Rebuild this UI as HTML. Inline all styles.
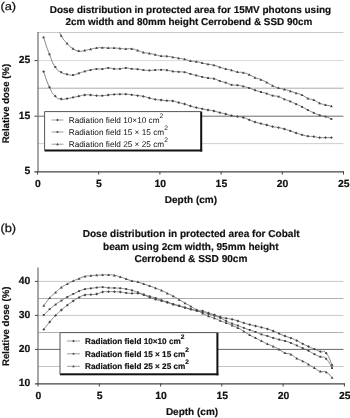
<!DOCTYPE html>
<html lang="en"><head><meta charset="utf-8"><title>Dose distribution</title>
<style>html,body{margin:0;padding:0;background:#fff}svg{display:block}</style></head>
<body>
<svg width="350" height="418" viewBox="0 0 350 418" font-family="'Liberation Sans', Arial, sans-serif" fill="#111" text-rendering="geometricPrecision">
<defs><clipPath id="ca"><rect x="37" y="32.4" width="310" height="140"/></clipPath></defs>
<rect width="350" height="418" fill="#fff"/>
<text transform="translate(0.4,9.8) scale(1.1,0.95)" font-size="11.7" stroke="#111" stroke-width="0.25">(a)</text>
<text x="190.45" y="13.1" font-size="9.975" font-weight="bold" stroke="#111" stroke-width="0.18" text-anchor="middle">Dose distribution in protected area for 15MV photons using</text>
<text x="188.9" y="25.4" font-size="9.93" font-weight="bold" stroke="#111" stroke-width="0.18" text-anchor="middle">2cm width and 80mm height Cerrobend &amp; SSD 90cm</text>
<line x1="37.5" y1="32.5" x2="343.4" y2="32.5" stroke="#cacaca" stroke-width="1"/>
<line x1="37.5" y1="60.6" x2="343.4" y2="60.6" stroke="#d8d8d8" stroke-width="1"/>
<line x1="37.5" y1="88.2" x2="343.4" y2="88.2" stroke="#ababab" stroke-width="1"/>
<line x1="37.5" y1="116.2" x2="343.4" y2="116.2" stroke="#6a6a6a" stroke-width="1"/>
<line x1="37.5" y1="143.6" x2="343.4" y2="143.6" stroke="#cfcfcf" stroke-width="1"/>
<line x1="38" y1="32" x2="38" y2="172" stroke="#777" stroke-width="1.3"/>
<line x1="34.4" y1="171.9" x2="344" y2="171.9" stroke="#444" stroke-width="1.2"/>
<line x1="34.4" y1="60.6" x2="37.5" y2="60.6" stroke="#444" stroke-width="1"/>
<line x1="34.4" y1="116.2" x2="37.5" y2="116.2" stroke="#444" stroke-width="1"/>
<line x1="37.5" y1="171.6" x2="37.5" y2="174.6" stroke="#444" stroke-width="1"/>
<text x="37.8" y="187" font-size="10.4" font-weight="bold" stroke="#111" stroke-width="0.18" text-anchor="middle">0</text>
<line x1="98.7" y1="171.6" x2="98.7" y2="174.6" stroke="#444" stroke-width="1"/>
<text x="99.0" y="187" font-size="10.4" font-weight="bold" stroke="#111" stroke-width="0.18" text-anchor="middle">5</text>
<line x1="159.9" y1="171.6" x2="159.9" y2="174.6" stroke="#444" stroke-width="1"/>
<text x="160.2" y="187" font-size="10.4" font-weight="bold" stroke="#111" stroke-width="0.18" text-anchor="middle">10</text>
<line x1="221.1" y1="171.6" x2="221.1" y2="174.6" stroke="#444" stroke-width="1"/>
<text x="221.4" y="187" font-size="10.4" font-weight="bold" stroke="#111" stroke-width="0.18" text-anchor="middle">15</text>
<line x1="282.3" y1="171.6" x2="282.3" y2="174.6" stroke="#444" stroke-width="1"/>
<text x="282.6" y="187" font-size="10.4" font-weight="bold" stroke="#111" stroke-width="0.18" text-anchor="middle">20</text>
<line x1="343.5" y1="171.6" x2="343.5" y2="174.6" stroke="#444" stroke-width="1"/>
<text x="343.8" y="187" font-size="10.4" font-weight="bold" stroke="#111" stroke-width="0.18" text-anchor="middle">25</text>
<text x="30.3" y="63.4" font-size="10.4" font-weight="bold" stroke="#111" stroke-width="0.18" text-anchor="end">25</text>
<text x="30.3" y="119.0" font-size="10.4" font-weight="bold" stroke="#111" stroke-width="0.18" text-anchor="end">15</text>
<text x="30.3" y="174.4" font-size="10.4" font-weight="bold" stroke="#111" stroke-width="0.18" text-anchor="end">5</text>
<text transform="translate(9.2,103.6) rotate(-90)" font-size="9.6" font-weight="bold" stroke="#111" stroke-width="0.18" text-anchor="middle">Relative dose (%)</text>
<text x="190.9" y="202.7" font-size="10" font-weight="bold" stroke="#111" stroke-width="0.18" text-anchor="middle">Depth (cm)</text>
<g clip-path="url(#ca)">
<path d="M43.6 -12.0C45.6 -6.0 45.6 -5.7 49.5 6.0C53.4 17.7 51.4 13.1 55.3 23.0C59.3 32.9 57.3 28.8 61.2 35.6C65.1 42.4 63.2 39.1 67.1 43.4C71.0 47.7 69.0 46.1 73.0 48.6C76.9 51.1 74.9 50.4 78.8 51.0C82.8 51.6 80.8 51.0 84.7 50.4C88.6 49.8 86.7 50.0 90.6 49.2C94.5 48.4 92.5 48.5 96.5 48.0C100.4 47.5 98.4 47.6 102.3 47.6C106.2 47.6 104.3 47.9 108.2 48.0C112.1 48.1 110.2 47.9 114.1 48.0C118.0 48.1 116.0 48.1 119.9 48.4C123.9 48.7 121.9 48.7 125.8 48.8C129.7 48.9 127.8 48.3 131.7 48.8C135.6 49.3 133.7 49.2 137.6 50.4C141.5 51.6 139.5 51.4 143.4 52.4C147.4 53.4 145.4 52.7 149.3 53.4C153.2 54.1 151.3 53.7 155.2 54.6C159.1 55.5 157.1 55.5 161.1 56.0C165.0 56.5 163.0 55.8 166.9 56.2C170.8 56.6 168.9 56.5 172.8 57.2C176.7 57.9 174.8 57.5 178.7 58.2C182.6 58.9 180.6 58.3 184.6 59.2C188.5 60.1 186.5 60.0 190.4 60.8C194.3 61.6 192.4 60.9 196.3 61.6C200.2 62.3 198.3 62.1 202.2 63.0C206.1 63.9 204.1 63.5 208.0 64.2C212.0 64.9 210.0 64.2 213.9 65.2C217.8 66.2 215.9 66.0 219.8 67.2C223.7 68.4 221.7 67.8 225.7 68.8C229.6 69.8 227.6 69.1 231.5 70.2C235.5 71.3 233.5 71.2 237.4 72.0C241.3 72.8 239.4 71.7 243.3 72.6C247.2 73.5 245.2 72.9 249.2 74.6C253.1 76.3 251.1 75.9 255.0 77.6C258.9 79.3 257.0 78.0 260.9 79.6C264.8 81.2 262.9 80.4 266.8 82.4C270.7 84.4 268.7 83.7 272.6 85.6C276.6 87.5 274.6 86.8 278.5 88.0C282.4 89.2 280.5 88.3 284.4 89.3C288.3 90.3 286.4 89.8 290.3 91.1C294.2 92.4 292.2 91.8 296.1 93.1C300.1 94.4 298.1 93.2 302.0 95.0C305.9 96.8 304.0 96.7 307.9 98.4C311.8 100.1 309.8 98.4 313.8 100.0C317.7 101.6 315.7 101.6 319.6 103.2C323.5 104.8 321.6 103.8 325.5 104.8C329.4 105.8 329.4 105.7 331.4 106.2" fill="none" stroke="#666" stroke-width="0.8" stroke-linejoin="round"/>
<path d="M43.6 -13.4L45.0 -10.9L42.2 -10.9Z" fill="#444"/>
<path d="M49.5 4.6L50.9 7.1L48.1 7.1Z" fill="#444"/>
<path d="M55.3 21.6L56.7 24.1L53.9 24.1Z" fill="#444"/>
<path d="M61.2 34.2L62.6 36.7L59.8 36.7Z" fill="#444"/>
<path d="M67.1 42.0L68.5 44.5L65.7 44.5Z" fill="#444"/>
<path d="M73.0 47.2L74.4 49.7L71.6 49.7Z" fill="#444"/>
<path d="M78.8 49.6L80.2 52.1L77.4 52.1Z" fill="#444"/>
<path d="M84.7 49.0L86.1 51.5L83.3 51.5Z" fill="#444"/>
<path d="M90.6 47.8L92.0 50.3L89.2 50.3Z" fill="#444"/>
<path d="M96.5 46.6L97.9 49.1L95.1 49.1Z" fill="#444"/>
<path d="M102.3 46.2L103.7 48.7L100.9 48.7Z" fill="#444"/>
<path d="M108.2 46.6L109.6 49.1L106.8 49.1Z" fill="#444"/>
<path d="M114.1 46.6L115.5 49.1L112.7 49.1Z" fill="#444"/>
<path d="M119.9 47.0L121.3 49.5L118.5 49.5Z" fill="#444"/>
<path d="M125.8 47.4L127.2 49.9L124.4 49.9Z" fill="#444"/>
<path d="M131.7 47.4L133.1 49.9L130.3 49.9Z" fill="#444"/>
<path d="M137.6 49.0L139.0 51.5L136.2 51.5Z" fill="#444"/>
<path d="M143.4 51.0L144.8 53.5L142.0 53.5Z" fill="#444"/>
<path d="M149.3 52.0L150.7 54.5L147.9 54.5Z" fill="#444"/>
<path d="M155.2 53.2L156.6 55.7L153.8 55.7Z" fill="#444"/>
<path d="M161.1 54.6L162.5 57.1L159.7 57.1Z" fill="#444"/>
<path d="M166.9 54.8L168.3 57.3L165.5 57.3Z" fill="#444"/>
<path d="M172.8 55.8L174.2 58.3L171.4 58.3Z" fill="#444"/>
<path d="M178.7 56.8L180.1 59.3L177.3 59.3Z" fill="#444"/>
<path d="M184.6 57.8L186.0 60.3L183.2 60.3Z" fill="#444"/>
<path d="M190.4 59.4L191.8 61.9L189.0 61.9Z" fill="#444"/>
<path d="M196.3 60.2L197.7 62.7L194.9 62.7Z" fill="#444"/>
<path d="M202.2 61.6L203.6 64.1L200.8 64.1Z" fill="#444"/>
<path d="M208.0 62.8L209.4 65.3L206.6 65.3Z" fill="#444"/>
<path d="M213.9 63.8L215.3 66.3L212.5 66.3Z" fill="#444"/>
<path d="M219.8 65.8L221.2 68.3L218.4 68.3Z" fill="#444"/>
<path d="M225.7 67.4L227.1 69.9L224.3 69.9Z" fill="#444"/>
<path d="M231.5 68.8L232.9 71.3L230.1 71.3Z" fill="#444"/>
<path d="M237.4 70.6L238.8 73.1L236.0 73.1Z" fill="#444"/>
<path d="M243.3 71.2L244.7 73.7L241.9 73.7Z" fill="#444"/>
<path d="M249.2 73.2L250.6 75.7L247.8 75.7Z" fill="#444"/>
<path d="M255.0 76.2L256.4 78.7L253.6 78.7Z" fill="#444"/>
<path d="M260.9 78.2L262.3 80.7L259.5 80.7Z" fill="#444"/>
<path d="M266.8 81.0L268.2 83.5L265.4 83.5Z" fill="#444"/>
<path d="M272.6 84.2L274.0 86.7L271.2 86.7Z" fill="#444"/>
<path d="M278.5 86.6L279.9 89.1L277.1 89.1Z" fill="#444"/>
<path d="M284.4 87.9L285.8 90.4L283.0 90.4Z" fill="#444"/>
<path d="M290.3 89.7L291.7 92.2L288.9 92.2Z" fill="#444"/>
<path d="M296.1 91.7L297.5 94.2L294.7 94.2Z" fill="#444"/>
<path d="M302.0 93.6L303.4 96.1L300.6 96.1Z" fill="#444"/>
<path d="M307.9 97.0L309.3 99.5L306.5 99.5Z" fill="#444"/>
<path d="M313.8 98.6L315.2 101.1L312.4 101.1Z" fill="#444"/>
<path d="M319.6 101.8L321.0 104.3L318.2 104.3Z" fill="#444"/>
<path d="M325.5 103.4L326.9 105.9L324.1 105.9Z" fill="#444"/>
<path d="M331.4 104.8L332.8 107.3L330.0 107.3Z" fill="#444"/>
</g>
<g clip-path="url(#ca)">
<path d="M43.6 37.4C45.6 43.1 45.6 44.5 49.5 54.4C53.4 64.3 51.4 61.1 55.3 67.0C59.3 72.9 57.3 69.8 61.2 72.2C65.1 74.6 63.2 73.4 67.1 74.3C71.0 75.2 69.0 75.3 73.0 75.0C76.9 74.7 74.9 74.5 78.8 73.3C82.8 72.1 80.8 72.5 84.7 71.4C88.6 70.3 86.7 70.8 90.6 70.0C94.5 69.2 92.5 69.3 96.5 69.0C100.4 68.7 98.4 69.3 102.3 69.0C106.2 68.7 104.3 68.1 108.2 68.0C112.1 67.9 110.2 68.5 114.1 68.8C118.0 69.1 116.0 69.1 119.9 68.8C123.9 68.5 121.9 68.0 125.8 68.0C129.7 68.0 127.8 68.4 131.7 68.8C135.6 69.2 133.7 68.8 137.6 69.2C141.5 69.6 139.5 69.6 143.4 70.0C147.4 70.4 145.4 70.4 149.3 70.4C153.2 70.4 151.3 70.2 155.2 70.0C159.1 69.8 157.1 69.7 161.1 69.8C165.0 69.9 163.0 69.7 166.9 70.2C170.8 70.7 168.9 70.9 172.8 71.4C176.7 71.9 174.8 71.5 178.7 71.8C182.6 72.1 180.6 71.5 184.6 72.2C188.5 72.9 186.5 72.8 190.4 73.9C194.3 75.0 192.4 74.4 196.3 75.4C200.2 76.4 198.3 76.0 202.2 76.9C206.1 77.8 204.1 77.4 208.0 78.0C212.0 78.6 210.0 77.7 213.9 78.7C217.8 79.7 215.9 79.7 219.8 81.0C223.7 82.3 221.7 81.3 225.7 82.6C229.6 83.9 227.6 83.9 231.5 84.8C235.5 85.7 233.5 84.7 237.4 85.2C241.3 85.7 239.4 85.5 243.3 86.4C247.2 87.3 245.2 86.7 249.2 88.0C253.1 89.3 251.1 88.9 255.0 90.2C258.9 91.5 257.0 90.9 260.9 92.0C264.8 93.1 262.9 92.4 266.8 93.6C270.7 94.8 268.7 94.6 272.6 95.6C276.6 96.6 274.6 95.4 278.5 96.6C282.4 97.8 280.5 97.7 284.4 99.3C288.3 100.9 286.4 99.8 290.3 101.4C294.2 103.0 292.2 102.3 296.1 104.1C300.1 105.9 298.1 104.8 302.0 106.8C305.9 108.8 304.0 108.0 307.9 110.0C311.8 112.0 309.8 111.1 313.8 112.8C317.7 114.5 315.7 113.9 319.6 115.2C323.5 116.5 321.6 115.3 325.5 116.6C329.4 117.9 329.4 118.2 331.4 119.0" fill="none" stroke="#666" stroke-width="0.8" stroke-linejoin="round"/>
<rect x="42.6" y="36.4" width="1.9" height="1.9" fill="#444"/>
<rect x="48.5" y="53.4" width="1.9" height="1.9" fill="#444"/>
<rect x="54.4" y="66.1" width="1.9" height="1.9" fill="#444"/>
<rect x="60.3" y="71.3" width="1.9" height="1.9" fill="#444"/>
<rect x="66.1" y="73.4" width="1.9" height="1.9" fill="#444"/>
<rect x="72.0" y="74.1" width="1.9" height="1.9" fill="#444"/>
<rect x="77.9" y="72.4" width="1.9" height="1.9" fill="#444"/>
<rect x="83.8" y="70.5" width="1.9" height="1.9" fill="#444"/>
<rect x="89.6" y="69.1" width="1.9" height="1.9" fill="#444"/>
<rect x="95.5" y="68.1" width="1.9" height="1.9" fill="#444"/>
<rect x="101.4" y="68.1" width="1.9" height="1.9" fill="#444"/>
<rect x="107.3" y="67.1" width="1.9" height="1.9" fill="#444"/>
<rect x="113.1" y="67.9" width="1.9" height="1.9" fill="#444"/>
<rect x="119.0" y="67.9" width="1.9" height="1.9" fill="#444"/>
<rect x="124.9" y="67.1" width="1.9" height="1.9" fill="#444"/>
<rect x="130.7" y="67.9" width="1.9" height="1.9" fill="#444"/>
<rect x="136.6" y="68.3" width="1.9" height="1.9" fill="#444"/>
<rect x="142.5" y="69.1" width="1.9" height="1.9" fill="#444"/>
<rect x="148.4" y="69.5" width="1.9" height="1.9" fill="#444"/>
<rect x="154.2" y="69.1" width="1.9" height="1.9" fill="#444"/>
<rect x="160.1" y="68.9" width="1.9" height="1.9" fill="#444"/>
<rect x="166.0" y="69.3" width="1.9" height="1.9" fill="#444"/>
<rect x="171.9" y="70.5" width="1.9" height="1.9" fill="#444"/>
<rect x="177.7" y="70.9" width="1.9" height="1.9" fill="#444"/>
<rect x="183.6" y="71.3" width="1.9" height="1.9" fill="#444"/>
<rect x="189.5" y="73.0" width="1.9" height="1.9" fill="#444"/>
<rect x="195.3" y="74.5" width="1.9" height="1.9" fill="#444"/>
<rect x="201.2" y="76.0" width="1.9" height="1.9" fill="#444"/>
<rect x="207.1" y="77.1" width="1.9" height="1.9" fill="#444"/>
<rect x="213.0" y="77.8" width="1.9" height="1.9" fill="#444"/>
<rect x="218.8" y="80.1" width="1.9" height="1.9" fill="#444"/>
<rect x="224.7" y="81.7" width="1.9" height="1.9" fill="#444"/>
<rect x="230.6" y="83.9" width="1.9" height="1.9" fill="#444"/>
<rect x="236.5" y="84.3" width="1.9" height="1.9" fill="#444"/>
<rect x="242.3" y="85.5" width="1.9" height="1.9" fill="#444"/>
<rect x="248.2" y="87.1" width="1.9" height="1.9" fill="#444"/>
<rect x="254.1" y="89.3" width="1.9" height="1.9" fill="#444"/>
<rect x="260.0" y="91.1" width="1.9" height="1.9" fill="#444"/>
<rect x="265.8" y="92.7" width="1.9" height="1.9" fill="#444"/>
<rect x="271.7" y="94.7" width="1.9" height="1.9" fill="#444"/>
<rect x="277.6" y="95.7" width="1.9" height="1.9" fill="#444"/>
<rect x="283.4" y="98.4" width="1.9" height="1.9" fill="#444"/>
<rect x="289.3" y="100.5" width="1.9" height="1.9" fill="#444"/>
<rect x="295.2" y="103.2" width="1.9" height="1.9" fill="#444"/>
<rect x="301.1" y="105.9" width="1.9" height="1.9" fill="#444"/>
<rect x="306.9" y="109.1" width="1.9" height="1.9" fill="#444"/>
<rect x="312.8" y="111.9" width="1.9" height="1.9" fill="#444"/>
<rect x="318.7" y="114.3" width="1.9" height="1.9" fill="#444"/>
<rect x="324.6" y="115.7" width="1.9" height="1.9" fill="#444"/>
<rect x="330.4" y="118.1" width="1.9" height="1.9" fill="#444"/>
</g>
<g clip-path="url(#ca)">
<path d="M43.6 71.6C45.6 76.8 45.6 79.0 49.5 87.2C53.4 95.4 51.4 92.3 55.3 96.2C59.3 100.1 57.3 98.2 61.2 99.0C65.1 99.8 63.2 99.1 67.1 98.6C71.0 98.1 69.0 98.2 73.0 97.4C76.9 96.6 74.9 97.0 78.8 96.2C82.8 95.4 80.8 95.4 84.7 95.0C88.6 94.6 86.7 94.8 90.6 95.0C94.5 95.2 92.5 95.4 96.5 95.6C100.4 95.8 98.4 95.9 102.3 95.7C106.2 95.5 104.3 95.4 108.2 95.0C112.1 94.6 110.2 94.7 114.1 94.4C118.0 94.1 116.0 94.3 119.9 94.2C123.9 94.1 121.9 94.0 125.8 94.2C129.7 94.4 127.8 94.3 131.7 94.8C135.6 95.3 133.7 95.1 137.6 95.6C141.5 96.1 139.5 95.6 143.4 96.4C147.4 97.2 145.4 97.0 149.3 98.0C153.2 99.0 151.3 98.7 155.2 99.4C159.1 100.1 157.1 99.6 161.1 100.0C165.0 100.4 163.0 100.4 166.9 100.7C170.8 101.0 168.9 100.4 172.8 101.0C176.7 101.6 174.8 101.6 178.7 102.6C182.6 103.6 180.6 102.9 184.6 104.0C188.5 105.1 186.5 104.8 190.4 106.0C194.3 107.2 192.4 106.7 196.3 107.6C200.2 108.5 198.3 108.0 202.2 108.8C206.1 109.6 204.1 109.3 208.0 110.0C212.0 110.7 210.0 110.1 213.9 111.0C217.8 111.9 215.9 111.6 219.8 112.6C223.7 113.6 221.7 113.0 225.7 114.0C229.6 115.0 227.6 114.7 231.5 115.6C235.5 116.5 233.5 116.0 237.4 116.6C241.3 117.2 239.4 116.4 243.3 117.5C247.2 118.6 245.2 118.3 249.2 119.8C253.1 121.3 251.1 120.7 255.0 122.0C258.9 123.3 257.0 122.6 260.9 123.6C264.8 124.6 262.9 124.0 266.8 125.0C270.7 126.0 268.7 125.7 272.6 126.6C276.6 127.5 274.6 126.8 278.5 127.6C282.4 128.4 280.5 127.9 284.4 129.0C288.3 130.1 286.4 129.6 290.3 130.9C294.2 132.2 292.2 131.7 296.1 133.0C300.1 134.3 298.1 133.7 302.0 134.8C305.9 135.9 304.0 135.6 307.9 136.2C311.8 136.8 309.8 136.1 313.8 136.6C317.7 137.1 315.7 137.3 319.6 137.6C323.5 137.9 321.6 137.6 325.5 137.6C329.4 137.6 329.4 137.6 331.4 137.6" fill="none" stroke="#666" stroke-width="0.8" stroke-linejoin="round"/>
<path d="M43.6 70.2L45.0 71.6L43.6 73.0L42.2 71.6Z" fill="#444"/>
<path d="M49.5 85.8L50.9 87.2L49.5 88.6L48.1 87.2Z" fill="#444"/>
<path d="M55.3 94.8L56.7 96.2L55.3 97.6L53.9 96.2Z" fill="#444"/>
<path d="M61.2 97.6L62.6 99.0L61.2 100.4L59.8 99.0Z" fill="#444"/>
<path d="M67.1 97.2L68.5 98.6L67.1 100.0L65.7 98.6Z" fill="#444"/>
<path d="M73.0 96.0L74.4 97.4L73.0 98.8L71.6 97.4Z" fill="#444"/>
<path d="M78.8 94.8L80.2 96.2L78.8 97.6L77.4 96.2Z" fill="#444"/>
<path d="M84.7 93.6L86.1 95.0L84.7 96.4L83.3 95.0Z" fill="#444"/>
<path d="M90.6 93.6L92.0 95.0L90.6 96.4L89.2 95.0Z" fill="#444"/>
<path d="M96.5 94.2L97.9 95.6L96.5 97.0L95.1 95.6Z" fill="#444"/>
<path d="M102.3 94.3L103.7 95.7L102.3 97.1L100.9 95.7Z" fill="#444"/>
<path d="M108.2 93.6L109.6 95.0L108.2 96.4L106.8 95.0Z" fill="#444"/>
<path d="M114.1 93.0L115.5 94.4L114.1 95.8L112.7 94.4Z" fill="#444"/>
<path d="M119.9 92.8L121.3 94.2L119.9 95.6L118.5 94.2Z" fill="#444"/>
<path d="M125.8 92.8L127.2 94.2L125.8 95.6L124.4 94.2Z" fill="#444"/>
<path d="M131.7 93.4L133.1 94.8L131.7 96.2L130.3 94.8Z" fill="#444"/>
<path d="M137.6 94.2L139.0 95.6L137.6 97.0L136.2 95.6Z" fill="#444"/>
<path d="M143.4 95.0L144.8 96.4L143.4 97.8L142.0 96.4Z" fill="#444"/>
<path d="M149.3 96.6L150.7 98.0L149.3 99.4L147.9 98.0Z" fill="#444"/>
<path d="M155.2 98.0L156.6 99.4L155.2 100.8L153.8 99.4Z" fill="#444"/>
<path d="M161.1 98.6L162.5 100.0L161.1 101.4L159.7 100.0Z" fill="#444"/>
<path d="M166.9 99.3L168.3 100.7L166.9 102.1L165.5 100.7Z" fill="#444"/>
<path d="M172.8 99.6L174.2 101.0L172.8 102.4L171.4 101.0Z" fill="#444"/>
<path d="M178.7 101.2L180.1 102.6L178.7 104.0L177.3 102.6Z" fill="#444"/>
<path d="M184.6 102.6L186.0 104.0L184.6 105.4L183.2 104.0Z" fill="#444"/>
<path d="M190.4 104.6L191.8 106.0L190.4 107.4L189.0 106.0Z" fill="#444"/>
<path d="M196.3 106.2L197.7 107.6L196.3 109.0L194.9 107.6Z" fill="#444"/>
<path d="M202.2 107.4L203.6 108.8L202.2 110.2L200.8 108.8Z" fill="#444"/>
<path d="M208.0 108.6L209.4 110.0L208.0 111.4L206.6 110.0Z" fill="#444"/>
<path d="M213.9 109.6L215.3 111.0L213.9 112.4L212.5 111.0Z" fill="#444"/>
<path d="M219.8 111.2L221.2 112.6L219.8 114.0L218.4 112.6Z" fill="#444"/>
<path d="M225.7 112.6L227.1 114.0L225.7 115.4L224.3 114.0Z" fill="#444"/>
<path d="M231.5 114.2L232.9 115.6L231.5 117.0L230.1 115.6Z" fill="#444"/>
<path d="M237.4 115.2L238.8 116.6L237.4 118.0L236.0 116.6Z" fill="#444"/>
<path d="M243.3 116.1L244.7 117.5L243.3 118.9L241.9 117.5Z" fill="#444"/>
<path d="M249.2 118.4L250.6 119.8L249.2 121.2L247.8 119.8Z" fill="#444"/>
<path d="M255.0 120.6L256.4 122.0L255.0 123.4L253.6 122.0Z" fill="#444"/>
<path d="M260.9 122.2L262.3 123.6L260.9 125.0L259.5 123.6Z" fill="#444"/>
<path d="M266.8 123.6L268.2 125.0L266.8 126.4L265.4 125.0Z" fill="#444"/>
<path d="M272.6 125.2L274.0 126.6L272.6 128.0L271.2 126.6Z" fill="#444"/>
<path d="M278.5 126.2L279.9 127.6L278.5 129.0L277.1 127.6Z" fill="#444"/>
<path d="M284.4 127.6L285.8 129.0L284.4 130.4L283.0 129.0Z" fill="#444"/>
<path d="M290.3 129.5L291.7 130.9L290.3 132.3L288.9 130.9Z" fill="#444"/>
<path d="M296.1 131.6L297.5 133.0L296.1 134.4L294.7 133.0Z" fill="#444"/>
<path d="M302.0 133.4L303.4 134.8L302.0 136.2L300.6 134.8Z" fill="#444"/>
<path d="M307.9 134.8L309.3 136.2L307.9 137.6L306.5 136.2Z" fill="#444"/>
<path d="M313.8 135.2L315.2 136.6L313.8 138.0L312.4 136.6Z" fill="#444"/>
<path d="M319.6 136.2L321.0 137.6L319.6 139.0L318.2 137.6Z" fill="#444"/>
<path d="M325.5 136.2L326.9 137.6L325.5 139.0L324.1 137.6Z" fill="#444"/>
<path d="M331.4 136.2L332.8 137.6L331.4 139.0L330.0 137.6Z" fill="#444"/>
</g>
<rect x="44.6" y="111.6" width="156.6" height="38.9" fill="#fff"/>
<rect x="200.2" y="111.6" width="2" height="39.9" fill="#111"/>
<rect x="44.6" y="149.5" width="157.6" height="2" fill="#111"/>
<line x1="44.6" y1="111.6" x2="201.2" y2="111.6" stroke="#555" stroke-width="1"/>
<line x1="44.6" y1="111.6" x2="44.6" y2="150.5" stroke="#555" stroke-width="1"/>
<line x1="51.5" y1="120" x2="63.5" y2="120" stroke="#888" stroke-width="0.8"/>
<path d="M57.5 118.7L58.8 120.0L57.5 121.3L56.2 120.0Z" fill="#444"/>
<text x="68.7" y="122.7" font-size="8.24">Radiation field 10×10 cm<tspan font-size="6.6" dy="-5.1">2</tspan></text>
<line x1="51.5" y1="132" x2="63.5" y2="132" stroke="#888" stroke-width="0.8"/>
<rect x="56.6" y="131.2" width="1.7" height="1.7" fill="#444"/>
<text x="68.7" y="134.7" font-size="8.24">Radiation field 15 × 15 cm<tspan font-size="6.6" dy="-5.1">2</tspan></text>
<line x1="51.5" y1="144.2" x2="63.5" y2="144.2" stroke="#888" stroke-width="0.8"/>
<path d="M57.5 142.9L58.8 145.2L56.2 145.2Z" fill="#444"/>
<text x="68.7" y="147" font-size="8.24">Radiation field 25 × 25 cm<tspan font-size="6.6" dy="-5.1">2</tspan></text>
<text transform="translate(0.4,232.4) scale(1.1,1)" font-size="11.7" stroke="#111" stroke-width="0.25">(b)</text>
<text x="191.1" y="237.3" font-size="10.07" font-weight="bold" stroke="#111" stroke-width="0.18" text-anchor="middle">Dose distribution in protected area for Cobalt</text>
<text x="190.8" y="249.5" font-size="10.07" font-weight="bold" stroke="#111" stroke-width="0.18" text-anchor="middle">beam using 2cm width, 95mm height</text>
<text x="190.9" y="261.5" font-size="10.07" font-weight="bold" stroke="#111" stroke-width="0.18" text-anchor="middle">Cerrobend &amp; SSD 90cm</text>
<line x1="38" y1="281.4" x2="343.4" y2="281.4" stroke="#c8c8c8" stroke-width="1"/>
<line x1="38" y1="298.5" x2="343.4" y2="298.5" stroke="#b0b0b0" stroke-width="1"/>
<line x1="38" y1="315.4" x2="343.4" y2="315.4" stroke="#c8c8c8" stroke-width="1"/>
<line x1="38" y1="332.5" x2="343.4" y2="332.5" stroke="#b0b0b0" stroke-width="1"/>
<line x1="38" y1="349.4" x2="343.4" y2="349.4" stroke="#666" stroke-width="1"/>
<line x1="38" y1="366.5" x2="343.4" y2="366.5" stroke="#c4c4c4" stroke-width="1"/>
<line x1="38" y1="267.6" x2="38" y2="384" stroke="#777" stroke-width="1.3"/>
<line x1="35" y1="383.9" x2="344.9" y2="383.9" stroke="#444" stroke-width="1.2"/>
<line x1="35" y1="281.4" x2="38" y2="281.4" stroke="#444" stroke-width="1"/>
<line x1="35" y1="315.4" x2="38" y2="315.4" stroke="#444" stroke-width="1"/>
<line x1="35" y1="349.4" x2="38" y2="349.4" stroke="#444" stroke-width="1"/>
<line x1="38.0" y1="383.5" x2="38.0" y2="386.5" stroke="#444" stroke-width="1"/>
<text x="38.4" y="398.7" font-size="10.4" font-weight="bold" stroke="#111" stroke-width="0.18" text-anchor="middle">0</text>
<line x1="99.3" y1="383.5" x2="99.3" y2="386.5" stroke="#444" stroke-width="1"/>
<text x="99.7" y="398.7" font-size="10.4" font-weight="bold" stroke="#111" stroke-width="0.18" text-anchor="middle">5</text>
<line x1="160.6" y1="383.5" x2="160.6" y2="386.5" stroke="#444" stroke-width="1"/>
<text x="161.0" y="398.7" font-size="10.4" font-weight="bold" stroke="#111" stroke-width="0.18" text-anchor="middle">10</text>
<line x1="221.8" y1="383.5" x2="221.8" y2="386.5" stroke="#444" stroke-width="1"/>
<text x="222.2" y="398.7" font-size="10.4" font-weight="bold" stroke="#111" stroke-width="0.18" text-anchor="middle">15</text>
<line x1="283.1" y1="383.5" x2="283.1" y2="386.5" stroke="#444" stroke-width="1"/>
<text x="283.5" y="398.7" font-size="10.4" font-weight="bold" stroke="#111" stroke-width="0.18" text-anchor="middle">20</text>
<line x1="344.4" y1="383.5" x2="344.4" y2="386.5" stroke="#444" stroke-width="1"/>
<text x="344.8" y="398.7" font-size="10.4" font-weight="bold" stroke="#111" stroke-width="0.18" text-anchor="middle">25</text>
<text x="30.3" y="284.2" font-size="10.4" font-weight="bold" stroke="#111" stroke-width="0.18" text-anchor="end">40</text>
<text x="30.3" y="318.2" font-size="10.4" font-weight="bold" stroke="#111" stroke-width="0.18" text-anchor="end">30</text>
<text x="30.3" y="352.2" font-size="10.4" font-weight="bold" stroke="#111" stroke-width="0.18" text-anchor="end">20</text>
<text x="30.3" y="386.3" font-size="10.4" font-weight="bold" stroke="#111" stroke-width="0.18" text-anchor="end">10</text>
<text transform="translate(9.2,326.2) rotate(-90)" font-size="9.6" font-weight="bold" stroke="#111" stroke-width="0.18" text-anchor="middle">Relative dose (%)</text>
<text x="192" y="414.7" font-size="10" font-weight="bold" stroke="#111" stroke-width="0.18" text-anchor="middle">Depth (cm)</text>
<g>
<path d="M43.8 305.6C45.8 303.1 45.8 302.4 49.7 298.0C53.6 293.6 51.6 295.9 55.6 292.4C59.5 288.9 57.5 290.2 61.4 287.4C65.4 284.6 63.4 286.1 67.3 284.0C71.3 281.9 69.3 282.8 73.2 281.0C77.1 279.2 75.2 280.1 79.1 278.6C83.0 277.1 81.1 277.4 85.0 276.4C88.9 275.4 86.9 276.0 90.9 275.6C94.8 275.2 92.8 275.4 96.7 275.2C100.7 275.0 98.7 275.0 102.6 274.9C106.6 274.8 104.6 274.7 108.5 274.8C112.4 274.9 110.5 274.6 114.4 275.3C118.3 276.0 116.4 275.8 120.3 277.0C124.2 278.2 122.2 277.7 126.2 279.0C130.1 280.3 128.1 279.8 132.0 280.8C136.0 281.8 134.0 280.9 137.9 282.0C141.8 283.1 139.9 282.7 143.8 284.0C147.7 285.3 145.8 284.6 149.7 286.0C153.6 287.4 151.7 286.6 155.6 288.1C159.5 289.6 157.5 288.7 161.5 290.4C165.4 292.1 163.4 291.4 167.3 293.3C171.3 295.2 169.3 294.0 173.2 296.1C177.1 298.2 175.2 297.3 179.1 299.6C183.0 301.9 181.1 300.8 185.0 303.1C188.9 305.4 187.0 304.1 190.9 306.4C194.8 308.7 192.8 307.6 196.8 309.9C200.7 312.2 198.7 311.2 202.6 313.3C206.6 315.4 204.6 314.5 208.5 316.1C212.4 317.7 210.5 316.7 214.4 318.2C218.3 319.7 216.4 319.1 220.3 320.7C224.2 322.3 222.3 321.3 226.2 322.9C230.1 324.5 228.1 323.7 232.1 325.4C236.0 327.1 234.0 325.9 237.9 327.9C241.9 329.9 239.9 329.0 243.8 331.4C247.7 333.8 245.8 332.8 249.7 335.0C253.6 337.2 251.7 336.0 255.6 338.0C259.5 340.0 257.5 339.0 261.5 341.0C265.4 343.0 263.4 342.2 267.4 344.0C271.3 345.8 269.3 344.6 273.2 346.4C277.2 348.2 275.2 347.2 279.1 349.4C283.0 351.6 281.1 351.3 285.0 353.0C288.9 354.7 287.0 352.6 290.9 354.4C294.8 356.2 292.8 356.2 296.8 358.4C300.7 360.6 298.7 359.1 302.7 361.1C306.6 363.1 304.6 362.1 308.5 364.4C312.5 366.7 310.5 365.6 314.4 367.9C318.3 370.2 316.4 370.0 320.3 371.4C324.2 372.8 322.3 370.1 326.2 372.2C330.1 374.3 330.1 375.9 332.1 377.7" fill="none" stroke="#666" stroke-width="0.8" stroke-linejoin="round"/>
<path d="M43.8 304.2L45.2 306.7L42.4 306.7Z" fill="#444"/>
<path d="M49.7 296.6L51.1 299.1L48.3 299.1Z" fill="#444"/>
<path d="M55.6 291.0L57.0 293.5L54.2 293.5Z" fill="#444"/>
<path d="M61.4 286.0L62.8 288.5L60.0 288.5Z" fill="#444"/>
<path d="M67.3 282.6L68.7 285.1L65.9 285.1Z" fill="#444"/>
<path d="M73.2 279.6L74.6 282.1L71.8 282.1Z" fill="#444"/>
<path d="M79.1 277.2L80.5 279.7L77.7 279.7Z" fill="#444"/>
<path d="M85.0 275.0L86.4 277.5L83.6 277.5Z" fill="#444"/>
<path d="M90.9 274.2L92.3 276.7L89.5 276.7Z" fill="#444"/>
<path d="M96.7 273.8L98.1 276.3L95.3 276.3Z" fill="#444"/>
<path d="M102.6 273.5L104.0 276.0L101.2 276.0Z" fill="#444"/>
<path d="M108.5 273.4L109.9 275.9L107.1 275.9Z" fill="#444"/>
<path d="M114.4 273.9L115.8 276.4L113.0 276.4Z" fill="#444"/>
<path d="M120.3 275.6L121.7 278.1L118.9 278.1Z" fill="#444"/>
<path d="M126.2 277.6L127.6 280.1L124.8 280.1Z" fill="#444"/>
<path d="M132.0 279.4L133.4 281.9L130.6 281.9Z" fill="#444"/>
<path d="M137.9 280.6L139.3 283.1L136.5 283.1Z" fill="#444"/>
<path d="M143.8 282.6L145.2 285.1L142.4 285.1Z" fill="#444"/>
<path d="M149.7 284.6L151.1 287.1L148.3 287.1Z" fill="#444"/>
<path d="M155.6 286.7L157.0 289.2L154.2 289.2Z" fill="#444"/>
<path d="M161.5 289.0L162.9 291.5L160.1 291.5Z" fill="#444"/>
<path d="M167.3 291.9L168.7 294.4L165.9 294.4Z" fill="#444"/>
<path d="M173.2 294.7L174.6 297.2L171.8 297.2Z" fill="#444"/>
<path d="M179.1 298.2L180.5 300.7L177.7 300.7Z" fill="#444"/>
<path d="M185.0 301.7L186.4 304.2L183.6 304.2Z" fill="#444"/>
<path d="M190.9 305.0L192.3 307.5L189.5 307.5Z" fill="#444"/>
<path d="M196.8 308.5L198.2 311.0L195.4 311.0Z" fill="#444"/>
<path d="M202.6 311.9L204.0 314.4L201.2 314.4Z" fill="#444"/>
<path d="M208.5 314.7L209.9 317.2L207.1 317.2Z" fill="#444"/>
<path d="M214.4 316.8L215.8 319.3L213.0 319.3Z" fill="#444"/>
<path d="M220.3 319.3L221.7 321.8L218.9 321.8Z" fill="#444"/>
<path d="M226.2 321.5L227.6 324.0L224.8 324.0Z" fill="#444"/>
<path d="M232.1 324.0L233.5 326.5L230.7 326.5Z" fill="#444"/>
<path d="M237.9 326.5L239.3 329.0L236.5 329.0Z" fill="#444"/>
<path d="M243.8 330.0L245.2 332.5L242.4 332.5Z" fill="#444"/>
<path d="M249.7 333.6L251.1 336.1L248.3 336.1Z" fill="#444"/>
<path d="M255.6 336.6L257.0 339.1L254.2 339.1Z" fill="#444"/>
<path d="M261.5 339.6L262.9 342.1L260.1 342.1Z" fill="#444"/>
<path d="M267.4 342.6L268.8 345.1L266.0 345.1Z" fill="#444"/>
<path d="M273.2 345.0L274.6 347.5L271.8 347.5Z" fill="#444"/>
<path d="M279.1 348.0L280.5 350.5L277.7 350.5Z" fill="#444"/>
<path d="M285.0 351.6L286.4 354.1L283.6 354.1Z" fill="#444"/>
<path d="M290.9 353.0L292.3 355.5L289.5 355.5Z" fill="#444"/>
<path d="M296.8 357.0L298.2 359.5L295.4 359.5Z" fill="#444"/>
<path d="M302.7 359.7L304.1 362.2L301.3 362.2Z" fill="#444"/>
<path d="M308.5 363.0L309.9 365.5L307.1 365.5Z" fill="#444"/>
<path d="M314.4 366.5L315.8 369.0L313.0 369.0Z" fill="#444"/>
<path d="M320.3 370.0L321.7 372.5L318.9 372.5Z" fill="#444"/>
<path d="M326.2 370.8L327.6 373.3L324.8 373.3Z" fill="#444"/>
<path d="M332.1 376.3L333.5 378.8L330.7 378.8Z" fill="#444"/>
</g>
<g>
<path d="M43.8 315.0C45.8 313.1 45.8 312.7 49.7 309.2C53.6 305.7 51.6 307.5 55.6 304.6C59.5 301.7 57.5 303.1 61.4 300.6C65.4 298.1 63.4 299.2 67.3 297.0C71.3 294.8 69.3 295.9 73.2 294.0C77.1 292.1 75.2 292.8 79.1 291.2C83.0 289.6 81.1 290.1 85.0 289.2C88.9 288.3 86.9 288.9 90.9 288.4C94.8 287.9 92.8 288.0 96.7 287.6C100.7 287.2 98.7 287.1 102.6 287.2C106.6 287.3 104.6 287.5 108.5 287.8C112.4 288.1 110.5 287.8 114.4 288.0C118.3 288.2 116.4 287.9 120.3 288.3C124.2 288.7 122.2 288.4 126.2 289.1C130.1 289.8 128.1 289.3 132.0 290.4C136.0 291.5 134.0 291.0 137.9 292.4C141.8 293.8 139.9 293.3 143.8 294.6C147.7 295.9 145.8 295.2 149.7 296.4C153.6 297.6 151.7 296.8 155.6 298.1C159.5 299.4 157.5 298.9 161.5 300.2C165.4 301.5 163.4 300.7 167.3 302.0C171.3 303.3 169.3 302.9 173.2 304.1C177.1 305.3 175.2 304.5 179.1 305.7C183.0 306.9 181.1 306.4 185.0 307.6C188.9 308.8 187.0 308.2 190.9 309.3C194.8 310.4 192.8 310.0 196.8 311.0C200.7 312.0 198.7 311.2 202.6 312.2C206.6 313.2 204.6 312.8 208.5 314.0C212.4 315.2 210.5 314.5 214.4 315.8C218.3 317.1 216.4 316.3 220.3 318.0C224.2 319.7 222.3 319.1 226.2 321.0C230.1 322.9 228.1 322.1 232.1 323.6C236.0 325.1 234.0 324.2 237.9 325.6C241.9 327.0 239.9 326.4 243.8 327.9C247.7 329.4 245.8 328.6 249.7 330.0C253.6 331.4 251.7 330.5 255.6 332.0C259.5 333.5 257.5 333.1 261.5 334.4C265.4 335.7 263.4 334.8 267.4 336.0C271.3 337.2 269.3 336.8 273.2 338.0C277.2 339.2 275.2 338.6 279.1 339.6C283.0 340.6 281.1 339.9 285.0 341.0C288.9 342.1 287.0 341.5 290.9 343.0C294.8 344.5 292.8 343.8 296.8 345.5C300.7 347.2 298.7 346.4 302.7 348.2C306.6 350.0 304.6 348.8 308.5 350.8C312.5 352.8 310.5 352.2 314.4 354.2C318.3 356.2 316.4 355.3 320.3 356.8C324.2 358.3 322.3 355.0 326.2 358.8C330.1 362.6 330.1 365.0 332.1 368.1" fill="none" stroke="#666" stroke-width="0.8" stroke-linejoin="round"/>
<rect x="42.8" y="314.0" width="1.9" height="1.9" fill="#444"/>
<rect x="48.7" y="308.2" width="1.9" height="1.9" fill="#444"/>
<rect x="54.6" y="303.6" width="1.9" height="1.9" fill="#444"/>
<rect x="60.5" y="299.6" width="1.9" height="1.9" fill="#444"/>
<rect x="66.4" y="296.0" width="1.9" height="1.9" fill="#444"/>
<rect x="72.3" y="293.0" width="1.9" height="1.9" fill="#444"/>
<rect x="78.1" y="290.2" width="1.9" height="1.9" fill="#444"/>
<rect x="84.0" y="288.2" width="1.9" height="1.9" fill="#444"/>
<rect x="89.9" y="287.4" width="1.9" height="1.9" fill="#444"/>
<rect x="95.8" y="286.6" width="1.9" height="1.9" fill="#444"/>
<rect x="101.7" y="286.2" width="1.9" height="1.9" fill="#444"/>
<rect x="107.6" y="286.8" width="1.9" height="1.9" fill="#444"/>
<rect x="113.4" y="287.0" width="1.9" height="1.9" fill="#444"/>
<rect x="119.3" y="287.3" width="1.9" height="1.9" fill="#444"/>
<rect x="125.2" y="288.1" width="1.9" height="1.9" fill="#444"/>
<rect x="131.1" y="289.4" width="1.9" height="1.9" fill="#444"/>
<rect x="137.0" y="291.4" width="1.9" height="1.9" fill="#444"/>
<rect x="142.9" y="293.6" width="1.9" height="1.9" fill="#444"/>
<rect x="148.7" y="295.4" width="1.9" height="1.9" fill="#444"/>
<rect x="154.6" y="297.1" width="1.9" height="1.9" fill="#444"/>
<rect x="160.5" y="299.2" width="1.9" height="1.9" fill="#444"/>
<rect x="166.4" y="301.0" width="1.9" height="1.9" fill="#444"/>
<rect x="172.3" y="303.1" width="1.9" height="1.9" fill="#444"/>
<rect x="178.2" y="304.7" width="1.9" height="1.9" fill="#444"/>
<rect x="184.0" y="306.6" width="1.9" height="1.9" fill="#444"/>
<rect x="189.9" y="308.3" width="1.9" height="1.9" fill="#444"/>
<rect x="195.8" y="310.0" width="1.9" height="1.9" fill="#444"/>
<rect x="201.7" y="311.2" width="1.9" height="1.9" fill="#444"/>
<rect x="207.6" y="313.0" width="1.9" height="1.9" fill="#444"/>
<rect x="213.5" y="314.8" width="1.9" height="1.9" fill="#444"/>
<rect x="219.3" y="317.0" width="1.9" height="1.9" fill="#444"/>
<rect x="225.2" y="320.0" width="1.9" height="1.9" fill="#444"/>
<rect x="231.1" y="322.6" width="1.9" height="1.9" fill="#444"/>
<rect x="237.0" y="324.6" width="1.9" height="1.9" fill="#444"/>
<rect x="242.9" y="326.9" width="1.9" height="1.9" fill="#444"/>
<rect x="248.8" y="329.0" width="1.9" height="1.9" fill="#444"/>
<rect x="254.6" y="331.0" width="1.9" height="1.9" fill="#444"/>
<rect x="260.5" y="333.4" width="1.9" height="1.9" fill="#444"/>
<rect x="266.4" y="335.0" width="1.9" height="1.9" fill="#444"/>
<rect x="272.3" y="337.0" width="1.9" height="1.9" fill="#444"/>
<rect x="278.2" y="338.6" width="1.9" height="1.9" fill="#444"/>
<rect x="284.1" y="340.0" width="1.9" height="1.9" fill="#444"/>
<rect x="289.9" y="342.0" width="1.9" height="1.9" fill="#444"/>
<rect x="295.8" y="344.5" width="1.9" height="1.9" fill="#444"/>
<rect x="301.7" y="347.2" width="1.9" height="1.9" fill="#444"/>
<rect x="307.6" y="349.8" width="1.9" height="1.9" fill="#444"/>
<rect x="313.5" y="353.2" width="1.9" height="1.9" fill="#444"/>
<rect x="319.4" y="355.8" width="1.9" height="1.9" fill="#444"/>
<rect x="325.2" y="357.8" width="1.9" height="1.9" fill="#444"/>
<rect x="331.1" y="367.1" width="1.9" height="1.9" fill="#444"/>
</g>
<g>
<path d="M43.8 329.4C45.8 326.9 45.8 326.7 49.7 322.0C53.6 317.3 51.6 319.4 55.6 315.4C59.5 311.4 57.5 313.4 61.4 310.0C65.4 306.6 63.4 308.2 67.3 305.2C71.3 302.2 69.3 303.6 73.2 301.0C77.1 298.4 75.2 299.4 79.1 297.4C83.0 295.4 81.1 295.9 85.0 295.0C88.9 294.1 86.9 294.9 90.9 294.6C94.8 294.3 92.8 294.9 96.7 294.0C100.7 293.1 98.7 292.8 102.6 292.0C106.6 291.2 104.6 291.8 108.5 291.7C112.4 291.6 110.5 291.6 114.4 291.7C118.3 291.8 116.4 291.6 120.3 292.0C124.2 292.4 122.2 292.4 126.2 292.9C130.1 293.4 128.1 293.3 132.0 293.4C136.0 293.5 134.0 292.8 137.9 293.3C141.8 293.8 139.9 293.5 143.8 294.9C147.7 296.3 145.8 295.9 149.7 297.4C153.6 298.9 151.7 298.2 155.6 299.4C159.5 300.6 157.5 299.8 161.5 300.9C165.4 302.0 163.4 301.4 167.3 302.6C171.3 303.8 169.3 303.4 173.2 304.5C177.1 305.6 175.2 304.8 179.1 305.9C183.0 307.0 181.1 306.6 185.0 307.7C188.9 308.8 187.0 308.5 190.9 309.3C194.8 310.1 192.8 309.6 196.8 310.2C200.7 310.8 198.7 310.1 202.6 311.0C206.6 311.9 204.6 311.7 208.5 313.0C212.4 314.3 210.5 313.5 214.4 314.8C218.3 316.1 216.4 315.7 220.3 316.9C224.2 318.1 222.3 317.5 226.2 318.3C230.1 319.1 228.1 318.4 232.1 319.3C236.0 320.2 234.0 319.8 237.9 321.0C241.9 322.2 239.9 321.7 243.8 322.9C247.7 324.1 245.8 323.6 249.7 324.6C253.6 325.6 251.7 325.1 255.6 326.0C259.5 326.9 257.5 326.4 261.5 327.4C265.4 328.4 263.4 327.8 267.4 329.0C271.3 330.2 269.3 329.5 273.2 331.0C277.2 332.5 275.2 331.9 279.1 333.6C283.0 335.3 281.1 334.5 285.0 336.0C288.9 337.5 287.0 336.6 290.9 338.1C294.8 339.6 292.8 338.7 296.8 340.6C300.7 342.5 298.7 341.8 302.7 343.8C306.6 345.8 304.6 344.7 308.5 346.5C312.5 348.3 310.5 347.4 314.4 349.1C318.3 350.8 316.4 350.2 320.3 351.6C324.2 353.0 322.3 348.7 326.2 353.2C330.1 357.7 330.1 361.2 332.1 365.2" fill="none" stroke="#666" stroke-width="0.8" stroke-linejoin="round"/>
<path d="M43.8 328.0L45.2 329.4L43.8 330.8L42.4 329.4Z" fill="#444"/>
<path d="M49.7 320.6L51.1 322.0L49.7 323.4L48.3 322.0Z" fill="#444"/>
<path d="M55.6 314.0L57.0 315.4L55.6 316.8L54.2 315.4Z" fill="#444"/>
<path d="M61.4 308.6L62.8 310.0L61.4 311.4L60.0 310.0Z" fill="#444"/>
<path d="M67.3 303.8L68.7 305.2L67.3 306.6L65.9 305.2Z" fill="#444"/>
<path d="M73.2 299.6L74.6 301.0L73.2 302.4L71.8 301.0Z" fill="#444"/>
<path d="M79.1 296.0L80.5 297.4L79.1 298.8L77.7 297.4Z" fill="#444"/>
<path d="M85.0 293.6L86.4 295.0L85.0 296.4L83.6 295.0Z" fill="#444"/>
<path d="M90.9 293.2L92.3 294.6L90.9 296.0L89.5 294.6Z" fill="#444"/>
<path d="M96.7 292.6L98.1 294.0L96.7 295.4L95.3 294.0Z" fill="#444"/>
<path d="M102.6 290.6L104.0 292.0L102.6 293.4L101.2 292.0Z" fill="#444"/>
<path d="M108.5 290.3L109.9 291.7L108.5 293.1L107.1 291.7Z" fill="#444"/>
<path d="M114.4 290.3L115.8 291.7L114.4 293.1L113.0 291.7Z" fill="#444"/>
<path d="M120.3 290.6L121.7 292.0L120.3 293.4L118.9 292.0Z" fill="#444"/>
<path d="M126.2 291.5L127.6 292.9L126.2 294.3L124.8 292.9Z" fill="#444"/>
<path d="M132.0 292.0L133.4 293.4L132.0 294.8L130.6 293.4Z" fill="#444"/>
<path d="M137.9 291.9L139.3 293.3L137.9 294.7L136.5 293.3Z" fill="#444"/>
<path d="M143.8 293.5L145.2 294.9L143.8 296.3L142.4 294.9Z" fill="#444"/>
<path d="M149.7 296.0L151.1 297.4L149.7 298.8L148.3 297.4Z" fill="#444"/>
<path d="M155.6 298.0L157.0 299.4L155.6 300.8L154.2 299.4Z" fill="#444"/>
<path d="M161.5 299.5L162.9 300.9L161.5 302.3L160.1 300.9Z" fill="#444"/>
<path d="M167.3 301.2L168.7 302.6L167.3 304.0L165.9 302.6Z" fill="#444"/>
<path d="M173.2 303.1L174.6 304.5L173.2 305.9L171.8 304.5Z" fill="#444"/>
<path d="M179.1 304.5L180.5 305.9L179.1 307.3L177.7 305.9Z" fill="#444"/>
<path d="M185.0 306.3L186.4 307.7L185.0 309.1L183.6 307.7Z" fill="#444"/>
<path d="M190.9 307.9L192.3 309.3L190.9 310.7L189.5 309.3Z" fill="#444"/>
<path d="M196.8 308.8L198.2 310.2L196.8 311.6L195.4 310.2Z" fill="#444"/>
<path d="M202.6 309.6L204.0 311.0L202.6 312.4L201.2 311.0Z" fill="#444"/>
<path d="M208.5 311.6L209.9 313.0L208.5 314.4L207.1 313.0Z" fill="#444"/>
<path d="M214.4 313.4L215.8 314.8L214.4 316.2L213.0 314.8Z" fill="#444"/>
<path d="M220.3 315.5L221.7 316.9L220.3 318.3L218.9 316.9Z" fill="#444"/>
<path d="M226.2 316.9L227.6 318.3L226.2 319.7L224.8 318.3Z" fill="#444"/>
<path d="M232.1 317.9L233.5 319.3L232.1 320.7L230.7 319.3Z" fill="#444"/>
<path d="M237.9 319.6L239.3 321.0L237.9 322.4L236.5 321.0Z" fill="#444"/>
<path d="M243.8 321.5L245.2 322.9L243.8 324.3L242.4 322.9Z" fill="#444"/>
<path d="M249.7 323.2L251.1 324.6L249.7 326.0L248.3 324.6Z" fill="#444"/>
<path d="M255.6 324.6L257.0 326.0L255.6 327.4L254.2 326.0Z" fill="#444"/>
<path d="M261.5 326.0L262.9 327.4L261.5 328.8L260.1 327.4Z" fill="#444"/>
<path d="M267.4 327.6L268.8 329.0L267.4 330.4L266.0 329.0Z" fill="#444"/>
<path d="M273.2 329.6L274.6 331.0L273.2 332.4L271.8 331.0Z" fill="#444"/>
<path d="M279.1 332.2L280.5 333.6L279.1 335.0L277.7 333.6Z" fill="#444"/>
<path d="M285.0 334.6L286.4 336.0L285.0 337.4L283.6 336.0Z" fill="#444"/>
<path d="M290.9 336.7L292.3 338.1L290.9 339.5L289.5 338.1Z" fill="#444"/>
<path d="M296.8 339.2L298.2 340.6L296.8 342.0L295.4 340.6Z" fill="#444"/>
<path d="M302.7 342.4L304.1 343.8L302.7 345.2L301.3 343.8Z" fill="#444"/>
<path d="M308.5 345.1L309.9 346.5L308.5 347.9L307.1 346.5Z" fill="#444"/>
<path d="M314.4 347.7L315.8 349.1L314.4 350.5L313.0 349.1Z" fill="#444"/>
<path d="M320.3 350.2L321.7 351.6L320.3 353.0L318.9 351.6Z" fill="#444"/>
<path d="M326.2 351.8L327.6 353.2L326.2 354.6L324.8 353.2Z" fill="#444"/>
<path d="M332.1 363.8L333.5 365.2L332.1 366.6L330.7 365.2Z" fill="#444"/>
</g>
<rect x="60" y="332.6" width="157.4" height="41.7" fill="#fff"/>
<rect x="216.4" y="332.6" width="2" height="42.7" fill="#111"/>
<rect x="60" y="373.3" width="158.4" height="2" fill="#111"/>
<line x1="60" y1="332.6" x2="217.4" y2="332.6" stroke="#555" stroke-width="1"/>
<line x1="60" y1="332.6" x2="60" y2="374.3" stroke="#555" stroke-width="1"/>
<line x1="67" y1="341" x2="80" y2="341" stroke="#888" stroke-width="0.8"/>
<path d="M73.5 339.7L74.8 341.0L73.5 342.3L72.2 341.0Z" fill="#444"/>
<text x="85" y="343.7" font-size="8.2" font-weight="bold" stroke="#111" stroke-width="0.18">Radiation field 10×10 cm<tspan font-size="6.6" dy="-5.1">2</tspan></text>
<line x1="67" y1="353.8" x2="80" y2="353.8" stroke="#888" stroke-width="0.8"/>
<rect x="72.7" y="352.9" width="1.7" height="1.7" fill="#444"/>
<text x="85" y="356.8" font-size="8.2" font-weight="bold" stroke="#111" stroke-width="0.18">Radiation field 15 × 15 cm<tspan font-size="6.6" dy="-5.1">2</tspan></text>
<line x1="67" y1="366.3" x2="80" y2="366.3" stroke="#888" stroke-width="0.8"/>
<path d="M73.5 365.0L74.8 367.3L72.2 367.3Z" fill="#444"/>
<text x="85" y="369" font-size="8.2" font-weight="bold" stroke="#111" stroke-width="0.18">Radiation field 25 × 25 cm<tspan font-size="6.6" dy="-5.1">2</tspan></text>
</svg>
</body></html>
